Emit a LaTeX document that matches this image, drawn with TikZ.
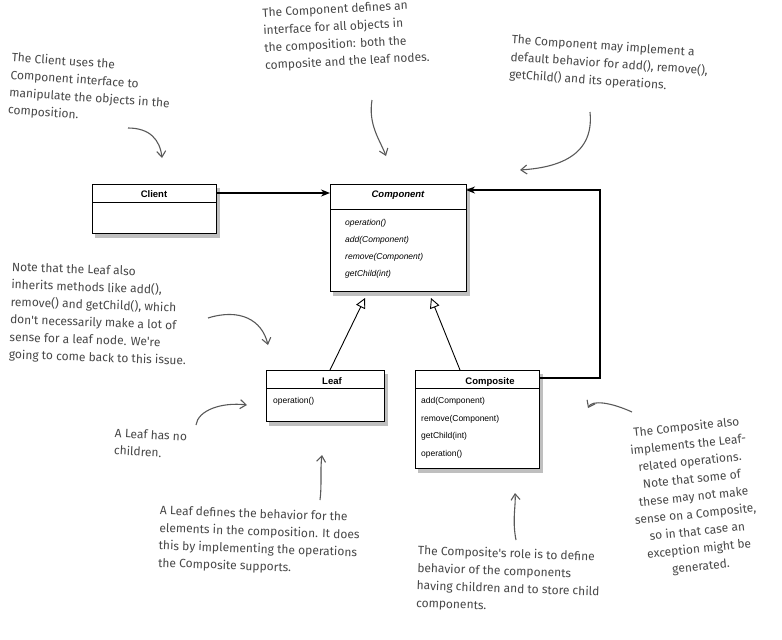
\documentclass[tikz,border=0pt]{standalone}
\usepackage{fontspec}
\setmainfont{Liberation Sans}
\newfontfamily\hand{Fira Sans}
\usetikzlibrary{arrows.meta}
\begin{document}
\begin{tikzpicture}[x=1pt,y=-1pt,
  umlbox/.style={draw=black,line width=1pt,fill=white},
  shad/.style={fill=black!25},
  note/.style={align=left,anchor=north west,font=\hand\fontsize{12}{17.5}\selectfont,text=black!72,inner sep=0},
  harrow/.style={draw=black!65,line width=1.1pt,-{Straight Barb[length=6pt,width=9pt]}},
  meth/.style={anchor=west,font=\fontsize{8.5}{9}\selectfont,inner sep=0},
  title/.style={font=\bfseries\fontsize{9.5}{10}\selectfont,inner sep=0}]
\useasboundingbox (0,0) rectangle (782,640);
% shadows
\fill[shad] (95,188) rectangle (220,238);
\fill[shad] (333,188) rectangle (470,296);
\fill[shad] (269,374) rectangle (388,426);
\fill[shad] (418,374) rectangle (543,473);
% boxes
\draw[umlbox] (92,184) rectangle (216,233); \draw (92,202)--(216,202);
\node[title] (client) at (154,194) {Client};
\coordinate (clientR) at (216,193);
\draw[umlbox] (330,184) rectangle (466,291); \draw (330,209)--(466,209);
\node[title,font=\bfseries\itshape\fontsize{9.5}{10}\selectfont] (comp) at (398,195) {Component};
\node[meth,font=\itshape\fontsize{8.5}{9}\selectfont] (m1) at (345,223) {operation()};
\node[meth,font=\itshape\fontsize{8.5}{9}\selectfont] (m2) at (345,240) {add(Component)};
\node[meth,font=\itshape\fontsize{8.5}{9}\selectfont] (m3) at (345,257) {remove(Component)};
\node[meth,font=\itshape\fontsize{8.5}{9}\selectfont] (m4) at (345,274) {getChild(int)};
\draw[umlbox] (266,370) rectangle (384,421); \draw (266,388)--(384,388);
\node[title] (leaf) at (332,381) {Leaf};
\node[meth] (l1) at (273,401) {operation()};
\draw[umlbox] (415,370) rectangle (539,468); \draw (415,388)--(539,388);
\node[title] (compo) at (490,382) {Composite};
\node[meth] (c1) at (421,401) {add(Component)};
\node[meth] (c2) at (421,419) {remove(Component)};
\node[meth] (c3) at (421,436) {getChild(int)};
\node[meth] (c4) at (421,454) {operation()};
% connectors
\coordinate (compL) at (330,193);
\coordinate (compR) at (466,190);
\coordinate (compoR) at (539,378);
\draw[line width=2pt,-{Stealth[length=9pt,width=7pt]}] (clientR)--(compL);
\draw[line width=1.6pt,-{Stealth[length=9pt,width=7pt]}] (compoR)--(600,378)--(600,190)--(compR);
\coordinate (lt) at (330,370); \coordinate (lh) at (365,298);
\coordinate (ct) at (460,370); \coordinate (ch) at (431,298);
\draw[line width=0.9pt,-{Triangle[open,length=10pt,width=10pt,fill=white]}] (lt)--(lh);
\draw[line width=0.9pt,-{Triangle[open,length=10pt,width=10pt,fill=white]}] (ct)--(ch);
% notes
\node[note,rotate=-4] (n1) at (12,52) {The Client uses the\\Component interface to\\manipulate the objects in the\\composition.};
\node[note,rotate=3] (n2) at (262,8) {The Component defines an\\interface for all objects in\\the composition: both the\\composite and the leaf nodes.};
\node[note,rotate=-4] (n3) at (512,34) {The Component may implement a\\default behavior for add(), remove(),\\getChild() and its operations.};
\node[note,rotate=-2] (n4) at (12,262) {Note that the Leaf also\\inherits methods like add(),\\remove() and getChild(), which\\don't necessarily make a lot of\\sense for a leaf node. We're\\going to come back to this issue.};
\node[note,rotate=-3] (n5) at (115,428) {A Leaf has no\\children.};
\node[note,rotate=-2] (n6) at (160,505) {A Leaf defines the behavior for the\\elements in the composition.  It does\\this by implementing the operations\\the Composite supports.};
\node[note,rotate=-2] (n7) at (418,545) {The Composite's role is to define\\behavior of the components\\having children and to store child\\components.};
\node[note,align=center,rotate=6] (n8) at (625,428) {The Composite also\\implements the Leaf-\\related operations.\\Note that some of\\these may not make\\sense on a Composite,\\so in that case an\\exception might be\\generated.};
% hand arrows
\coordinate (a1s) at (128,128); \coordinate (a1e) at (162,158);
\draw[harrow] (a1s) .. controls (150,128) and (160,140) .. (a1e);
\coordinate (a2s) at (372,100); \coordinate (a2e) at (386,156);
\draw[harrow] (a2s) .. controls (368,125) and (380,140) .. (a2e);
\coordinate (a3s) at (590,112); \coordinate (a3e) at (520,170);
\draw[harrow] (a3s) .. controls (595,160) and (550,168) .. (a3e);
\coordinate (a4s) at (208,318); \coordinate (a4e) at (268,345);
\draw[harrow] (a4s) .. controls (240,308) and (262,320) .. (a4e);
\coordinate (a5s) at (196,425); \coordinate (a5e) at (247,405);
\draw[harrow] (a5s) .. controls (198,410) and (222,402) .. (a5e);
\coordinate (a6s) at (320,500); \coordinate (a6e) at (322,455);
\draw[harrow] (a6s) .. controls (322,485) and (320,470) .. (a6e);
\coordinate (a7s) at (516,540); \coordinate (a7e) at (515,493);
\draw[harrow] (a7s) .. controls (512,520) and (516,505) .. (a7e);
\coordinate (a8s) at (632,412); \coordinate (a8e) at (588,408);
\draw[harrow] (a8s) .. controls (610,402) and (592,400) .. (a8e);
\end{tikzpicture}
\end{document}
